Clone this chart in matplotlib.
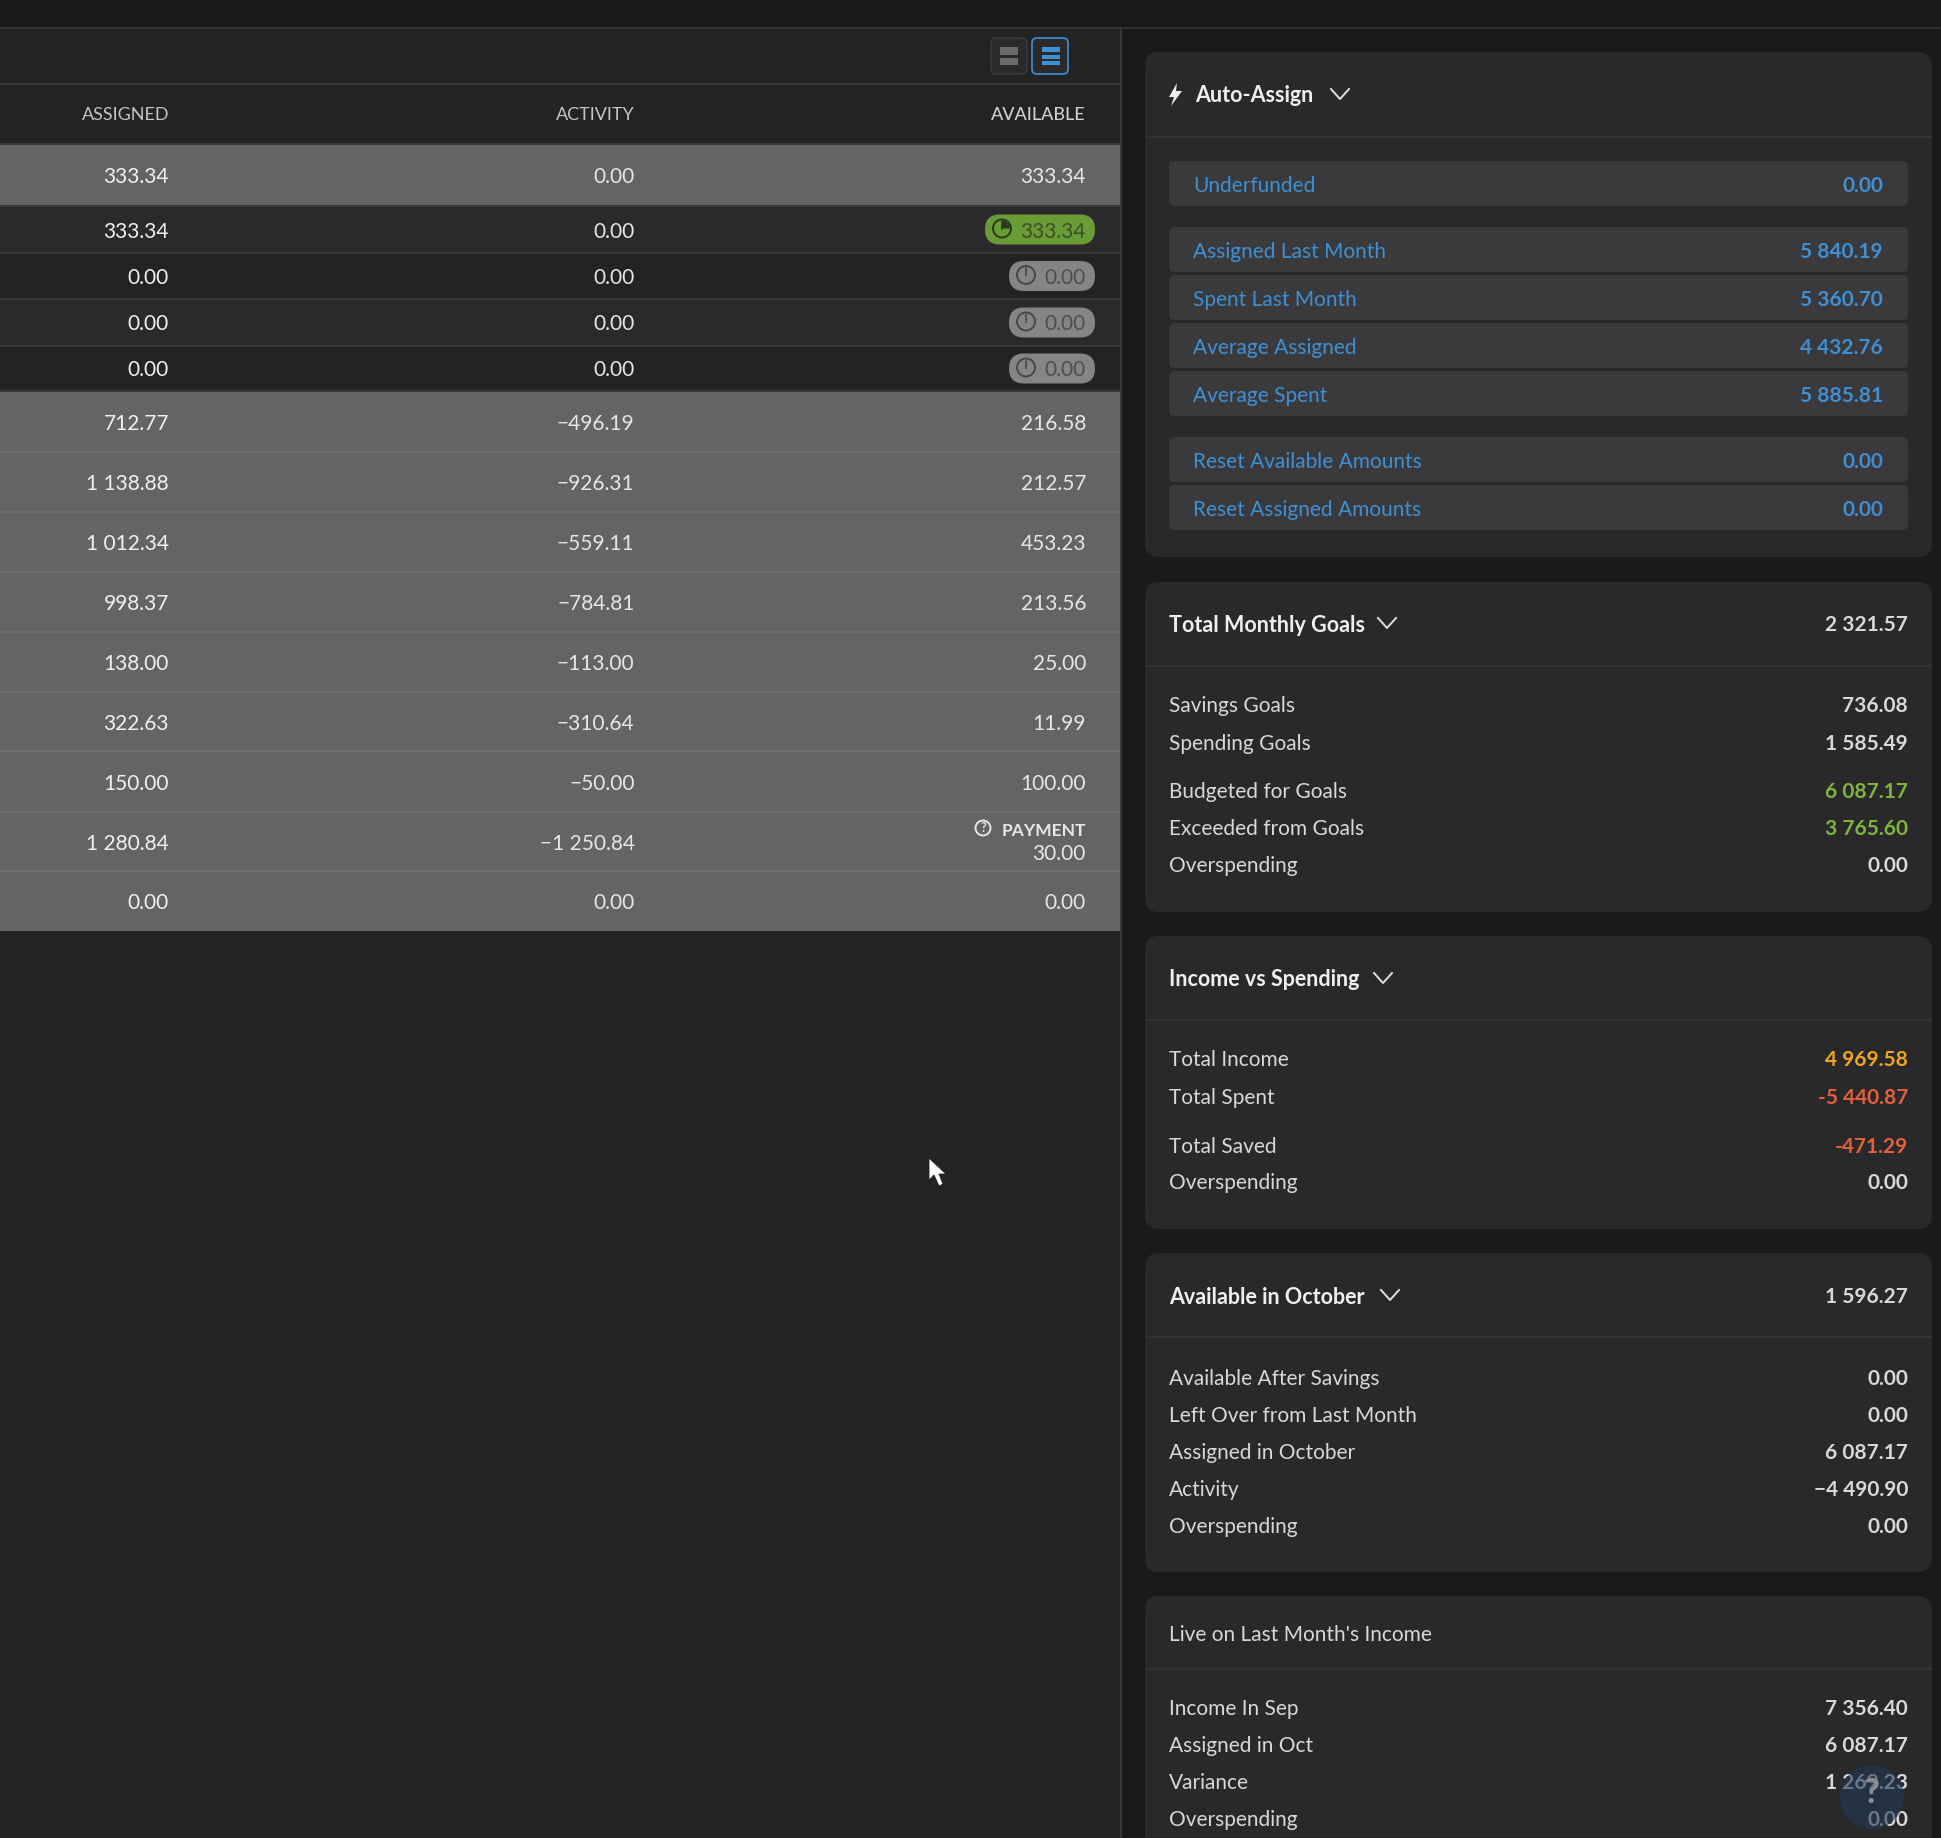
import matplotlib
matplotlib.use("Agg")
import matplotlib.pyplot as plt
from matplotlib.patches import Circle, FancyBboxPatch, Polygon, Rectangle, Wedge

plt.rcParams['font.family'] = ['Lato', 'DejaVu Sans']

# table values
assigned = ["333.34", "333.34", "0.00", "0.00", "0.00", "712.77", "1 138.88", "1 012.34",
            "998.37", "138.00", "322.63", "150.00", "1 280.84", "0.00"]
activity = ["0.00", "0.00", "0.00", "0.00", "0.00", "−496.19", "−926.31", "−559.11",
            "−784.81", "−113.00", "−310.64", "−50.00", "−1 250.84", "0.00"]
available = ["333.34", "333.34", "0.00", "0.00", "0.00", "216.58", "212.57", "453.23",
             "213.56", "25.00", "11.99", "100.00", "30.00", "0.00"]
columns = ["ASSIGNED", "ACTIVITY", "AVAILABLE"]

# sidebar values
auto_labels = ["Underfunded", "Assigned Last Month", "Spent Last Month", "Average Assigned",
               "Average Spent", "Reset Available Amounts", "Reset Assigned Amounts"]
auto_values = ["0.00", "5 840.19", "5 360.70", "4 432.76", "5 885.81", "0.00", "0.00"]

goal_labels = ["Savings Goals", "Spending Goals", "Budgeted for Goals", "Exceeded from Goals", "Overspending"]
goal_values = ["736.08", "1 585.49", "6 087.17", "3 765.60", "0.00"]

income_labels = ["Total Income", "Total Spent", "Total Saved", "Overspending"]
income_values = ["4 969.58", "-5 440.87", "-471.29", "0.00"]

avail_labels = ["Available After Savings", "Left Over from Last Month", "Assigned in October", "Activity", "Overspending"]
avail_values = ["0.00", "0.00", "6 087.17", "−4 490.90", "0.00"]

live_labels = ["Income In Sep", "Assigned in Oct", "Variance", "Overspending"]
live_values = ["7 356.40", "6 087.17", "1 269.23", "0.00"]

# layout, in picture pixels
row_tops = [144, 206, 253, 299, 346, 391, 452, 512, 572, 632, 692, 751, 812, 871, 931]
grey_rows = [0, 5, 6, 7, 8, 9, 10, 11, 12, 13]
auto_boxes = [(161, 206), (227, 272), (275, 320), (323, 368), (371, 416), (437, 482), (485, 530)]

# colors
top_bg = "#19191b"
main_bg = "#232325"
side_bg = "#1a1a1c"
card_bg = "#29292b"
box_bg = "#3a3a3c"
line_c = "#38383a"
grey_row = "#646466"
blue = "#3f8fd3"
text_c = "#d8d8da"
green = "#7fb53c"
orange = "#f0a51f"
red = "#e3603a"

fig = plt.figure(figsize=(1941 / 100, 1838 / 100), dpi=100, facecolor=main_bg)
ax = fig.add_axes([0, 0, 1, 1])
ax.set_xlim(0, 1941)
ax.set_ylim(1838, 0)
ax.axis("off")


def rect(x0, y0, x1, y1, color, z=1):
    ax.add_patch(Rectangle((x0, y0), x1 - x0, y1 - y0, fc=color, ec="none", zorder=z))


def rbox(x0, y0, x1, y1, r, fc, ec="none", lw=0, z=2):
    ax.add_patch(FancyBboxPatch((x0, y0), x1 - x0, y1 - y0, boxstyle=f"round,pad=0,rounding_size={r}",
                                fc=fc, ec=ec, lw=lw, zorder=z))


def txt(x, y, s, color=text_c, size=15, ha="right", weight="normal", z=5):
    return ax.text(x, y, s, color=color, fontsize=size, ha=ha, va="center_baseline", weight=weight, zorder=z)


def chevron(x, y):
    ax.plot([x - 9, x, x + 9], [y - 5, y + 5, y - 5], color="#e0e0e0", lw=1.4, zorder=5)


def clock(x, y, color, filled=False):
    ax.add_patch(Circle((x, y), 9, fc="none", ec=color, lw=1.4, zorder=6))
    if filled:
        ax.add_patch(Wedge((x, y), 8, -90, 0, fc=color, ec="none", zorder=6))
    ax.plot([x, x], [y, y - 7], color=color, lw=1.2, zorder=6)


# backgrounds
rect(0, 0, 1941, 27, top_bg)
rect(1122, 27, 1941, 1838, side_bg)
rect(1120, 27, 1122, 1838, line_c)
rect(0, 27, 1941, 29, "#303032", z=2)
rect(0, 83, 1120, 85, line_c, z=2)
rect(0, 143, 1120, 145, line_c, z=2)

# clipped bits of the top bar text
ax.text(1761, -5, "y", color="#e0e0e0", fontsize=15, ha="center", va="baseline")
ax.text(1887, -5, "g", color="#e0e0e0", fontsize=15, ha="center", va="baseline")

# toggle buttons
rbox(991, 38, 1027, 74, 5, "#2a2a2c", ec="#38383a", lw=1.2)
rbox(1032, 38, 1068, 74, 5, "#2a2a2c", ec=blue, lw=1.2)
rect(1000, 47, 1018, 54.5, "#6b6b6d", z=3)
rect(1000, 57.5, 1018, 65, "#6b6b6d", z=3)
for y0, y1 in [(47.3, 51.7), (54.8, 59), (61, 65)]:
    rect(1042, y0, 1060, y1, blue, z=3)

# table
for i in range(len(assigned)):
    top, bottom = row_tops[i], row_tops[i + 1]
    is_grey = i in grey_rows
    if is_grey:
        rect(0, top, 1120, bottom, grey_row)
    elif i % 2 == 1:
        rect(0, top, 1120, bottom, "#2a2a2c")
    if i > 0:
        rect(0, top - 1, 1120, top + 1, "#6e6e70" if is_grey and i > 5 else line_c, z=2)
    y = (top + bottom) / 2
    txt(169, y, assigned[i], color="#f0f0f0", size=15)
    txt(634.5, y, activity[i], color="#e6e6e6", size=15)
    if i == 1:
        rbox(985, y - 15, 1095, y + 15, 15, "#6a9c35", z=3)
        clock(1002, y - 1, "#2a3a1a", filled=True)
        txt(1086, y, available[i], color="#3c4f28", size=15)
    elif i in (2, 3, 4):
        rbox(1009, y - 15, 1095, y + 15, 15, "#858587", z=3)
        clock(1026, y - 1, "#474749")
        txt(1086, y, available[i], color="#4e4e50", size=15)
    elif i == 12:
        txt(1086, y + 10, available[i], color="#e6e6e6", size=15)
        txt(1086, y - 12, "PAYMENT", color="#e6e6e6", size=12.5, weight="bold")
        ax.add_patch(Circle((983, y - 13.5), 7.5, fc="none", ec="#e6e6e6", lw=1.4, zorder=6))
        ax.text(983, y - 13, "?", color="#e6e6e6", fontsize=9, ha="center", va="center", weight="bold", zorder=6)
    else:
        txt(1086, y, available[i], color="#e6e6e6", size=15)

txt(169, 113, columns[0], color="#c4c4c6", size=13)
txt(635, 113, columns[1], color="#c4c4c6", size=13)
txt(1086, 113, columns[2], color="#d0d0d2", size=13, weight="medium")


def card(top, bottom, sep, title, title_y, title_x=1169, chev_x=None, value=None, bold=True):
    rbox(1145, top, 1932, bottom, 14, card_bg)
    rect(1145, sep - 1, 1932, sep + 1, "#333335", z=3)
    txt(title_x, title_y, title, color="#efefef" if bold else text_c, size=15.5 if bold else 15,
        ha="left", weight="bold" if bold else "normal")
    if chev_x:
        chevron(chev_x, title_y)
    if value:
        txt(1908, title_y, value, color=text_c, size=15, weight="bold")


def rows(labels, values, ys, colors=None):
    for i in range(len(labels)):
        txt(1169, ys[i], labels[i], color=text_c, ha="left")
        txt(1908, ys[i], values[i], color=colors[i] if colors else text_c, weight="bold")


# auto-assign card
card(52, 557, 137, "Auto-Assign", 94, title_x=1195, chev_x=1340)
ax.add_patch(Polygon([(1177, 83), (1169, 97), (1174, 97), (1171, 106), (1182, 91), (1176, 91)],
                     fc="#eeeeee", ec="none", zorder=6))
for i in range(len(auto_labels)):
    y0, y1 = auto_boxes[i]
    rbox(1169, y0, 1908, y1, 6, box_bg, z=3)
    txt(1193, (y0 + y1) / 2, auto_labels[i], color=blue, ha="left")
    txt(1883, (y0 + y1) / 2, auto_values[i], color=blue, weight="bold")

# goals card
card(582, 912, 666, "Total Monthly Goals", 623, chev_x=1387, value="2 321.57")
rows(goal_labels, goal_values, [704, 741.5, 790, 827, 864], [text_c, text_c, green, green, text_c])

# income card
card(936, 1229, 1020, "Income vs Spending", 978, chev_x=1383)
rows(income_labels, income_values, [1058, 1095.5, 1145, 1181], [orange, red, red, text_c])

# available card
card(1253, 1572, 1337, "Available in October", 1295, chev_x=1390, value="1 596.27")
rows(avail_labels, avail_values, [1376.6, 1414, 1451, 1488, 1525])

# live on last month's income card, runs off the bottom
card(1596, 1900, 1669, "Live on Last Month's Income", 1633, bold=False)
rows(live_labels, live_values, [1707, 1744, 1781, 1818])

# help bubble on top of the last values
ax.add_patch(Circle((1872, 1797), 32, fc="#1f3a55", ec="none", alpha=0.6, zorder=7))
ax.text(1872, 1793, "?", color="#8e8e90", fontsize=25, ha="center", va="center", weight="bold", zorder=8)

# mouse cursor
ax.add_patch(Polygon([(929, 1158), (929, 1180), (934, 1175), (939, 1186), (943, 1184), (939, 1174), (946, 1174)],
                     fc="white", ec="#222222", lw=0.6, zorder=9))

fig.savefig("out.png", dpi=100, facecolor=main_bg)
